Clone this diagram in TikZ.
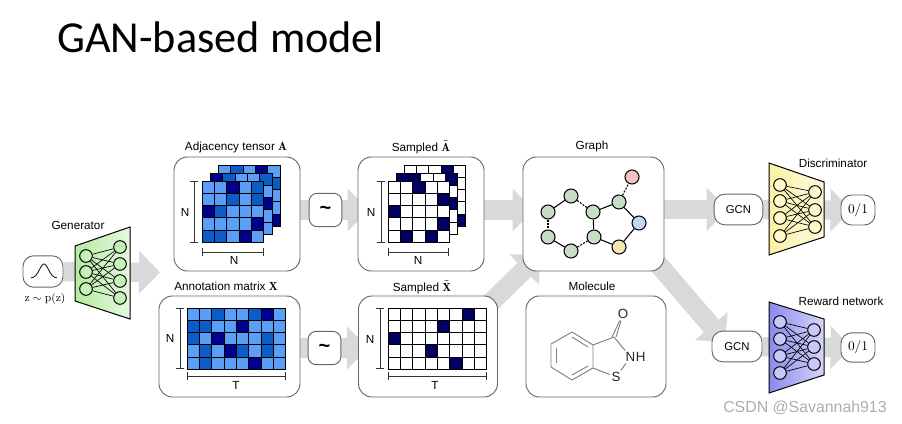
\documentclass[tikz,border=0pt]{standalone}
\usepackage{fontspec}
\setsansfont{Liberation Sans}
\newfontfamily\titlefont{Carlito}
\usetikzlibrary{arrows.meta,backgrounds}
\tikzset{
    panel/.style={draw=black!60, fill=white, line width=0.7pt, rounded corners=10pt, inner sep=0pt},
    opbox/.style={draw=black!60, fill=white, line width=0.7pt, rounded corners=6pt, inner sep=0pt, font=\sffamily\fontsize{8.5}{10}\selectfont},
    tildebox/.style={opbox, minimum width=24.5pt, minimum height=25pt, font=\sffamily\bfseries\fontsize{15}{16}\selectfont},
    lbl/.style={inner sep=0pt, font=\sffamily\fontsize{8.8}{10}\selectfont},
    atom/.style={inner sep=1.2pt, text=black!85, font=\sffamily\fontsize{10}{12}\selectfont},
    cell/.style={draw=black, line width=0.75pt},
    dim/.style={|-|, line width=0.65pt, black!80},
    band/.style={draw=bandgray, line width=14.5pt, -{Triangle[width=31.5pt,length=15.75pt]}},
    unit/.style={circle, draw=black, line width=0.75pt, minimum size=9.5pt, inner sep=0pt},
    link/.style={line width=0.5pt, black},
    atomnode/.style={circle, draw=black, line width=0.8pt, minimum size=10.5pt, inner sep=0pt},
    bond/.style={line width=0.8pt, black},
    dashbond/.style={line width=0.8pt, black, dash pattern=on 1.5pt off 1pt},
    ring/.style={line width=0.7pt, black!50},
    net/.style={draw=black, line width=0.75pt}
}
\newcommand{\cellgrid}[3]{%
    \foreach \row [count=\j] in {#3}{%
        \foreach \cc [count=\i] in \row {%
            \draw[cell, fill=\cc] ({#1+(\i-1)*12.35},{#2+(\j-1)*12.25}) rectangle +(12.35,12.25);
        }
    }
}
\begin{document}
\begin{tikzpicture}[x=0.75pt, y=-0.75pt]
            \definecolor{bandgray}{HTML}{D9D9DB}
            \definecolor{cl}{HTML}{5A9EF6}
            \definecolor{cm}{HTML}{0B5CC6}
            \definecolor{cd}{HTML}{00008C}
            \definecolor{cn}{HTML}{000060}
            \definecolor{cw}{HTML}{FFFFFF}
            \definecolor{gengreen}{HTML}{B4EBA2}
            \definecolor{genfill}{HTML}{C6F3B8}
            \definecolor{discyellow}{HTML}{FBF0A4}
            \definecolor{discfill}{HTML}{FFF9CC}
            \definecolor{rewblue}{HTML}{8A8AEC}
            \definecolor{rewfill}{HTML}{C8C8FA}
            \useasboundingbox (0,0) rectangle (902,424);

            \node[anchor=west, inner sep=0pt, font=\titlefont\fontsize{33.2}{36}\selectfont] (title) at (57,37) {GAN-based model};

            \node[panel, minimum width=94.5pt, minimum height=85.5pt] (adjbox) at (237,214) {};
            \node[panel, minimum width=105.75pt, minimum height=75.75pt] (annbox) at (229.5,346.5) {};
            \node[panel, minimum width=94.5pt, minimum height=85.5pt] (sampa) at (421,214) {};
            \node[panel, minimum width=104.25pt, minimum height=75.75pt] (sampx) at (428,346.5) {};
            \node[panel, minimum width=105.75pt, minimum height=85.5pt] (graph) at (593.5,214) {};
            \node[panel, minimum width=105pt, minimum height=75.75pt] (molbox) at (596,346.5) {};

            \node[lbl] (adjlabel) at (236,147) {Adjacency tensor $\mathbf{A}$};
            \node[lbl] (annlabel) at (226,286) {Annotation matrix $\mathbf{X}$};
            \node[lbl] (sampalabel) at (421,147) {Sampled $\tilde{\mathbf{A}}$};
            \node[lbl] (sampxlabel) at (422,287) {Sampled $\tilde{\mathbf{X}}$};
            \node[lbl] (graphlabel) at (592,146) {Graph};
            \node[lbl] (mollabel) at (592,286) {Molecule};
            \node[lbl] (genlabel) at (78,225) {Generator};
            \node[lbl] (disclabel) at (833,163) {Discriminator};
            \node[lbl] (rewlabel) at (841,301) {Reward network};

            \node[opbox, rounded corners=8pt, minimum width=30pt, minimum height=23.5pt] (input) at (43,271.5) {};
            \draw[line width=0.7pt, black!85] plot[domain=-13:13, samples=40] ({44+\x},{278-14*exp(-\x*\x/40)});
            \node[inner sep=0pt, font=\fontsize{8.5}{10}\selectfont] (zlabel) at (45,299) {$\mathrm{z}\sim\mathrm{p(z)}$};

            \node[tildebox] (tila) at (325.5,210) {\textasciitilde};
            \node[tildebox] (tilx) at (324.5,348) {\textasciitilde};
            \node[opbox, rounded corners=8pt, minimum width=36.5pt, minimum height=23pt] (gcna) at (738.5,209.5) {GCN};
            \node[opbox, rounded corners=8pt, minimum width=37.5pt, minimum height=23pt] (gcnb) at (737,346.5) {GCN};
            \node[opbox, rounded corners=8pt, minimum width=25.5pt, minimum height=22.5pt, font=\fontsize{10}{11}\selectfont] (outa) at (858,210) {$0/1$};
            \node[opbox, rounded corners=8pt, minimum width=25.5pt, minimum height=22pt, font=\fontsize{10}{11}\selectfont] (outb) at (858,347.5) {$0/1$};

            \coordinate (adjtl) at (202,181);
            \coordinate (adjbr) at (264,243);
            \coordinate (anntl) at (187,308);
            \coordinate (annbr) at (286,369);
            \coordinate (satl) at (388,181);
            \coordinate (sabr) at (449,243);
            \coordinate (sxtl) at (388,308);
            \coordinate (sxbr) at (487,369);

            \cellgrid{218.5}{165}{{cl,cm,cl,cd,cl},{cl,cl,cl,cl,cm},{cl,cl,cl,cl,cl},{cl,cl,cl,cl,cl},{cl,cl,cl,cl,cd}}
            \cellgrid{210.5}{173}{{cd,cm,cl,cl,cm},{cl,cl,cl,cl,cl},{cl,cl,cl,cl,cd},{cl,cl,cl,cl,cl},{cl,cl,cl,cl,cl}}
            \cellgrid{202}{181}{{cl,cl,cd,cl,cm},{cl,cl,cm,cl,cm},{cd,cm,cl,cl,cl},{cl,cl,cl,cl,cd},{cm,cm,cl,cd,cl}}
            \cellgrid{187}{308}{{cl,cl,cm,cl,cl,cm,cd,cl},{cm,cm,cl,cl,cd,cl,cl,cl},{cm,cl,cd,cl,cl,cl,cm,cl},{cl,cm,cl,cd,cm,cl,cm,cl},{cl,cm,cl,cl,cl,cd,cl,cl}}
            \cellgrid{404}{165}{{cw,cw,cw,cn,cw},{cw,cw,cw,cw,cw},{cw,cw,cw,cw,cw},{cw,cw,cw,cw,cw},{cw,cw,cw,cw,cn}}
            \cellgrid{396}{173}{{cn,cn,cw,cw,cn},{cw,cw,cw,cw,cw},{cw,cw,cw,cw,cn},{cw,cw,cw,cw,cw},{cw,cw,cw,cw,cw}}
            \cellgrid{388}{181}{{cw,cw,cn,cw,cw},{cw,cw,cw,cw,cn},{cn,cw,cw,cw,cw},{cw,cw,cw,cw,cn},{cw,cn,cw,cn,cw}}
            \cellgrid{388}{308}{{cw,cw,cw,cw,cw,cw,cn,cw},{cw,cw,cw,cw,cn,cw,cw,cw},{cn,cw,cw,cw,cw,cw,cw,cw},{cw,cw,cw,cn,cw,cw,cw,cw},{cw,cw,cw,cw,cw,cn,cw,cw}}

            \draw[dim] ([xshift=-6pt]adjtl) -- ([xshift=-6pt]adjtl |- adjbr);
            \draw[dim] ([yshift=-6.75pt]adjtl |- adjbr) -- ([yshift=-6.75pt]adjbr);
            \draw[dim] ([xshift=-5.25pt]anntl) -- ([xshift=-5.25pt]anntl |- annbr);
            \draw[dim] ([yshift=-5.25pt]anntl |- annbr) -- ([yshift=-5.25pt]annbr);
            \draw[dim] ([xshift=-5.25pt]satl) -- ([xshift=-5.25pt]satl |- sabr);
            \draw[dim] ([yshift=-6.75pt]satl |- sabr) -- ([yshift=-6.75pt]sabr);
            \draw[dim] ([xshift=-6pt]sxtl) -- ([xshift=-6pt]sxtl |- sxbr);
            \draw[dim] ([yshift=-5.25pt]sxtl |- sxbr) -- ([yshift=-5.25pt]sxbr);
            \node[lbl] (adjn1) at (185,212) {N};
            \node[lbl] (adjn2) at (234,260) {N};
            \node[lbl] (annn) at (170,338) {N};
            \node[lbl] (annt) at (236,385) {T};
            \node[lbl] (san1) at (371,212) {N};
            \node[lbl] (san2) at (418,260) {N};
            \node[lbl] (sxn) at (370,339) {N};
            \node[lbl] (sxt) at (435,385) {T};

            \draw[net, left color=gengreen, right color=gengreen!35] (75,246) -- (130,227) -- (130,319) -- (75,301) -- cycle;
            \foreach \i/\yy in {1/256,2/272,3/289}
                \node[unit, fill=genfill] (gl\i) at (86,\yy) {};
            \foreach \i/\yy in {1/247,2/264,3/281,4/298}
                \node[unit, fill=genfill] (gr\i) at (120,\yy) {};
            \foreach \i in {1,2,3}
                \foreach \j in {1,2,3,4}
                    \draw[link] (gl\i) -- (gr\j);

            \draw[net, left color=discyellow, right color=discyellow!35] (769,163) -- (824,182) -- (824,237) -- (769,255) -- cycle;
            \foreach \i/\yy in {1/185,2/201,3/218,4/236}
                \node[unit, fill=discfill] (dl\i) at (780,\yy) {};
            \foreach \i/\yy in {1/192,2/210,3/227}
                \node[unit, fill=discfill] (dr\i) at (815,\yy) {};
            \foreach \i in {1,2,3,4}
                \foreach \j in {1,2,3}
                    \draw[link] (dl\i) -- (dr\j);

            \draw[net, left color=rewblue, right color=rewblue!35] (769,302) -- (824,319) -- (824,375) -- (769,393) -- cycle;
            \foreach \i/\yy in {1/322,2/339,3/356,4/373}
                \node[unit, fill=rewfill] (rl\i) at (780,\yy) {};
            \foreach \i/\yy in {1/330,2/347,3/364}
                \node[unit, fill=rewfill] (rr\i) at (814,\yy) {};
            \foreach \i in {1,2,3,4}
                \foreach \j in {1,2,3}
                    \draw[link] (rl\i) -- (rr\j);

            \definecolor{ng}{HTML}{C7DDC6}
            \node[atomnode, fill=ng] (n1) at (571,196) {};
            \node[atomnode, fill=ng] (n2) at (593,212) {};
            \node[atomnode, fill=ng] (n3) at (548,212) {};
            \node[atomnode, fill=ng] (n4) at (548,237) {};
            \node[atomnode, fill=ng] (n5) at (571,251) {};
            \node[atomnode, fill=ng] (n6) at (594,237) {};
            \node[atomnode, fill=ng] (n7) at (619,202) {};
            \node[atomnode, fill={rgb,255:red,246;green,191;blue,196}] (n8) at (632,177) {};
            \node[atomnode, fill={rgb,255:red,197;green,213;blue,245}] (n9) at (639,223) {};
            \node[atomnode, fill={rgb,255:red,247;green,229;blue,174}] (n10) at (619,247) {};
            \draw[bond] (n1) -- (n3);
            \draw[dashbond] (n3) -- (n4);
            \draw[bond] (n4) -- (n5);
            \draw[dashbond] (n5) -- (n6);
            \draw[bond] (n6) -- (n2);
            \draw[dashbond] (n2) -- (n1);
            \draw[bond] (n2) -- (n7);
            \draw[dashbond] (n7) -- (n8);
            \draw[bond] (n7) -- (n9);
            \draw[bond] (n9) -- (n10);
            \draw[bond] (n10) -- (n6);

            \coordinate (b1) at (572,332);
            \coordinate (b2) at (593,345);
            \coordinate (b3) at (593,368);
            \coordinate (b4) at (572,380);
            \coordinate (b5) at (551,367);
            \coordinate (b6) at (551,344);
            \coordinate (cc) at (614,337);
            \node[atom] (oxy) at (623,314) {O};
            \node[atom] (mn) at (630.5,357) {N};
            \node[atom, anchor=west, inner sep=0pt, xshift=-1.2pt] (mh) at (mn.east) {H};
            \node[atom] (sul) at (616,377) {S};
            \draw[ring] (b1) -- (b2) -- (b3) -- (b4) -- (b5) -- (b6) -- cycle;
            \draw[ring] (572,337) -- (588,347);
            \draw[ring] (556,348) -- (556,363);
            \draw[ring] (572,375) -- (588,366);
            \draw[ring] (b2) -- (cc);
            \draw[ring] (b3) -- (sul);
            \draw[ring] (cc) -- (mn);
            \draw[ring] (sul) -- (mn);
            \draw[ring] ([xshift=-1.5pt]cc) -- ([xshift=-1.5pt]oxy);
            \draw[ring] ([xshift=1.5pt]cc) -- ([xshift=1.5pt]oxy);

            \node[anchor=west, inner sep=0pt, text=black!32, font=\sffamily\fontsize{11.9}{14}\selectfont] (mark) at (723,408) {CSDN @Savannah913};

            \coordinate (gentip) at (160,272.5);
            \coordinate (rewin) at (725,342);
            \begin{scope}[on background layer]
                \draw[band] (input) -- (gentip);
                \draw[band, shorten >=-8.25pt] (tila -| adjbox.east) -- (tila -| sampa.west);
                \draw[band, shorten >=-7.5pt] (tilx -| annbox.east) -- (tilx -| sampx.west);
                \draw[band, shorten >=-8.25pt] (tila -| sampa.east) -- (tila -| graph.west);
                \draw[band, shorten >=-17.6pt, shorten <=-8pt] (sampx.north east) -- (graph.south west);
                \draw[band, shorten >=-10.5pt] (gcna -| graph.east) -- (gcna.west);
                \draw[band, shorten <=-8pt] (graph.south east) -- (rewin);
                \draw[band, shorten >=-8.25pt] (gcna) -- (outa.west);
                \draw[band, shorten >=-8.25pt] (gcnb) -- (outb.west);
            \end{scope}
\end{tikzpicture}
\end{document}
